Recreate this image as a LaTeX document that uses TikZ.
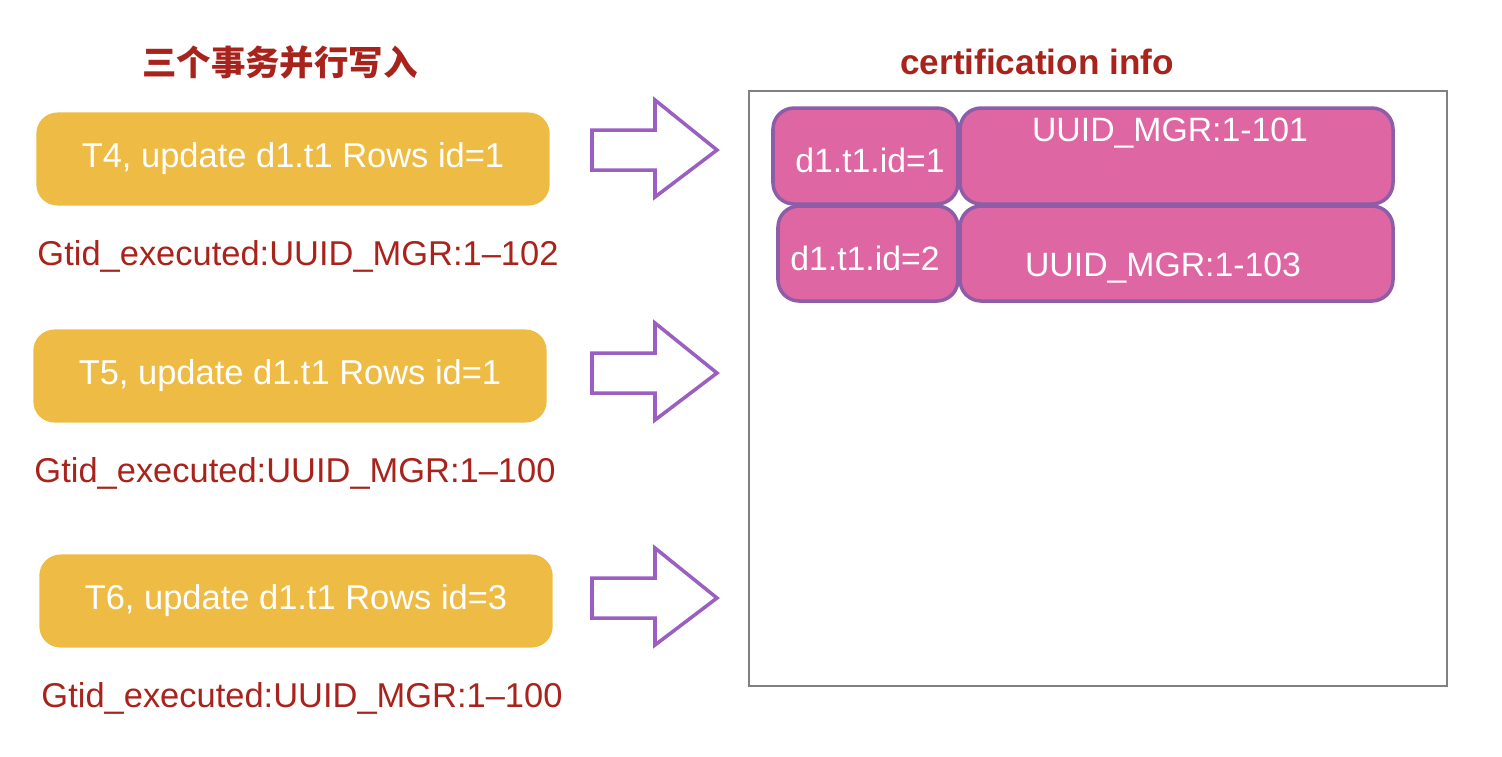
\documentclass[tikz,border=0pt]{standalone}
\usepackage{fontspec}
\setmainfont{Liberation Sans}
\newfontfamily\cjk{Noto Sans CJK SC}
\begin{document}
\begin{tikzpicture}[x=0.01cm,y=-0.01cm,
  txbox/.style={fill=boxorange,rounded corners=6pt,text=white,minimum width=5.13cm,minimum height=0.93cm,font=\fontsize{9.8}{12}\selectfont},
  gtid/.style={text=darkred,font=\fontsize{9.8}{12}\selectfont},
  cert/.style={fill=certpink,draw=certpurple,line width=1pt,rounded corners=6pt},
  certtext/.style={text=white,font=\fontsize{9.6}{11}\selectfont},
  hollow/.style={draw=arrowpurple,line width=1pt,fill=white}]
\definecolor{boxorange}{HTML}{EEBB44}
\definecolor{darkred}{HTML}{A8231C}
\definecolor{certpink}{HTML}{DD66A3}
\definecolor{certpurple}{HTML}{8E5DA8}
\definecolor{arrowpurple}{HTML}{9A5FC0}
\useasboundingbox (0,0) rectangle (1502,756);
% left column
\node[text=darkred,font=\cjk\bfseries\fontsize{9.8}{12}\selectfont] (title) at (280,62) {三个事务并行写入};
\foreach \n/\x/\y/\t/\g/\gx in {4/293/159/1/102/298,5/290/376/1/100/295,6/296/601/3/100/302}{
  \node[txbox] (t\n) at (\x,\y) {T\n, update d1.t1 Rows id=\t};
  \node[gtid] (g\n) at (\gx,\y+97) {Gtid\_executed:UUID\_MGR:1--\g};
}
% hollow arrows
\foreach \n/\c in {1/150,2/373,3/598}{
  \draw[hollow] (592,\c-20) -- (655,\c-20) -- (655,\c-50) -- (717,\c) -- (655,\c+47) -- (655,\c+20) -- (592,\c+20) -- cycle;
}
% certification info
\node[text=darkred,font=\bfseries\fontsize{10}{12}\selectfont] (ctitle) at (1037,62) {certification info};
\draw[gray,line width=0.6pt] (749,91) rectangle (1447,686);
\draw[cert] (773,108) rectangle (958,204);
\node[certtext] (k1) at (870,160) {d1.t1.id=1};
\draw[cert] (960,108) rectangle (1393,204);
\node[certtext] (v1) at (1170,133) {UUID\_MGR:1-101};
\draw[cert] (778,206) rectangle (958,301);
\node[certtext] (k2) at (865,258) {d1.t1.id=2};
\draw[cert] (960,206) rectangle (1393,301);
\node[certtext] (v2) at (1163,268) {UUID\_MGR:1-103};
\end{tikzpicture}
\end{document}
